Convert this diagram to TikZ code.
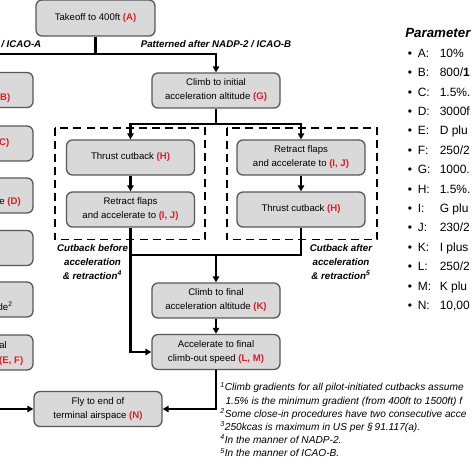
\documentclass[tikz,border=0pt]{standalone}
\usepackage{fontspec}
\setmainfont{Liberation Sans}
\usetikzlibrary{arrows.meta}
\definecolor{parred}{RGB}{225,28,36}
\definecolor{boxfill}{RGB}{217,217,217}
\definecolor{boxline}{RGB}{88,88,88}
\newcommand{\prm}[1]{\textcolor{parred}{\bfseries(#1)}}

\tikzset{
  stage/.style={draw=boxline, fill=boxfill, line width=1pt, rounded corners=4.5pt,
    minimum width=96pt, minimum height=26.25pt, inner sep=1pt, align=center,
    font=\fontsize{7.2}{10.5}\selectfont},
  frag/.style={inner sep=0pt, font=\fontsize{7.2}{10.5}\selectfont},
  trunk/.style={line width=1.6pt},
  flow/.style={trunk, -{Triangle[length=4.5pt,width=4.8pt]}},
  group/.style={line width=1.1pt, dash pattern=on 6pt off 3.8pt},
  path label/.style={inner sep=0pt, align=center, font=\fontsize{7.3}{10.5}\selectfont\bfseries\itshape},
  param/.style={anchor=base west, inner sep=0pt, font=\fontsize{9}{10}\selectfont}
}

\begin{document}
\begin{tikzpicture}[x=0.75pt,y=0.75pt,yscale=-1,xscale=1]
\path[use as bounding box] (0,0) rectangle (474,474);
\clip (0,0) rectangle (474,474);

%Dashed groups
\draw[group] (55,128) rectangle (205,239.5);
\draw[group] (227,128) rectangle (377,239.5);

%Stages
\node[stage, minimum width=89.25pt, minimum height=27pt] (A) at (95.5,18) {Takeoff to 400ft \prm{A}};
\node[stage] (G) at (216,90.5) {Climb to initial\\acceleration altitude \prm{G}};
\node[stage] (H1) at (130.5,157.5) {Thrust cutback \prm{H}};
\node[stage] (RF1) at (130.5,209.5) {Retract flaps\\and accelerate to \prm{I, J}};
\node[stage] (RF2) at (301,157.5) {Retract flaps\\and accelerate to \prm{I, J}};
\node[stage] (H2) at (301,209.5) {Thrust cutback \prm{H}};
\node[stage] (K) at (216,300.5) {Climb to final\\acceleration altitude \prm{K}};
\node[stage] (M) at (216,352) {Accelerate to final\\climb-out speed \prm{L, M}};
\node[stage] (N) at (98,409) {Fly to end of\\terminal airspace \prm{N}};

%Stages of the left branch (cut at the edge)
\node[stage] (pB) at (-31,90) {};
\node[stage] (pC) at (-31,143.5) {};
\node[stage] (pD) at (-31,195.5) {};
\node[stage] (pX) at (-31,248) {};
\node[stage] (pY) at (-31,299.5) {};
\node[stage] (pEF) at (-31,352.5) {};
\node[frag, anchor=east] (tB) at (10.5,98) {\textcolor{parred}{\bfseries B)}};
\node[frag, anchor=east] (tC) at (9.5,143.5) {\textcolor{parred}{\bfseries C)}};
\node[frag, anchor=east] (tD) at (21,202.5) {e \prm{D}};
\node[frag, anchor=east] (tY) at (13,306) {de\textsuperscript{2}};
\node[frag, anchor=east] (tE1) at (7,345) {al};
\node[frag, anchor=east] (tE2) at (23.5,361.5) {\prm{E, F}};

%Connectors
\coordinate (farA) at (-10,54);
\coordinate (fork2) at (216,124);
\coordinate (join) at (216,255);
\coordinate (farN) at (-10,409);
\draw[trunk] (A) -- (A |- farA);
\draw[flow] (farA) -| (G);
\draw[trunk] (G) -- (fork2);
\draw[flow] (fork2) -| (H1);
\draw[flow] (fork2) -| (RF2);
\draw[flow] (H1) -- (RF1);
\draw[flow] (RF2) -- (H2);
\draw[flow] (RF1) |- (M);
\draw[trunk] (H2) |- (RF1 |- join);
\draw[flow] (join) -- (K);
\draw[flow] (K) -- (M);
\draw[flow] (M) |- (N);
\draw[flow] (farN) -- (N);

% Text Node
\node[path label, anchor=west] (lblA) at (1,44) {/ ICAO-A};
\node[path label] (lblB) at (216,44) {Patterned after NADP-2 / ICAO-B};
\node[path label] (cbBefore) at (92.5,262) {Cutback before\\acceleration\\\& retraction\textsuperscript{4}};
\node[path label] (cbAfter) at (341,262) {Cutback after\\acceleration\\\& retraction\textsuperscript{5}};

% Text Node
\node[anchor=west, inner sep=0pt, font=\fontsize{10}{12}\selectfont\bfseries\itshape] (ptitle) at (405,33) {Parameter};
\node[param] (pA) at (407.5,57.3) {\makebox[7.5pt][l]{\textbullet}\makebox[16.5pt][l]{A:}10\%};
\node[param] (pB) at (407.5,76.7) {\makebox[7.5pt][l]{\textbullet}\makebox[16.5pt][l]{B:}800/\textbf{1}};
\node[param] (pC) at (407.5,96.1) {\makebox[7.5pt][l]{\textbullet}\makebox[16.5pt][l]{C:}1.5\%.};
\node[param] (pD) at (407.5,115.5) {\makebox[7.5pt][l]{\textbullet}\makebox[16.5pt][l]{D:}3000f};
\node[param] (pE) at (407.5,134.9) {\makebox[7.5pt][l]{\textbullet}\makebox[16.5pt][l]{E:}D plu};
\node[param] (pF) at (407.5,154.3) {\makebox[7.5pt][l]{\textbullet}\makebox[16.5pt][l]{F:}250/2};
\node[param] (pG) at (407.5,173.7) {\makebox[7.5pt][l]{\textbullet}\makebox[16.5pt][l]{G:}1000.};
\node[param] (pH) at (407.5,193.1) {\makebox[7.5pt][l]{\textbullet}\makebox[16.5pt][l]{H:}1.5\%.};
\node[param] (pI) at (407.5,212.5) {\makebox[7.5pt][l]{\textbullet}\makebox[16.5pt][l]{I:}G plu};
\node[param] (pJ) at (407.5,231.9) {\makebox[7.5pt][l]{\textbullet}\makebox[16.5pt][l]{J:}230/2};
\node[param] (pK) at (407.5,251.3) {\makebox[7.5pt][l]{\textbullet}\makebox[16.5pt][l]{K:}I plus};
\node[param] (pL) at (407.5,270.7) {\makebox[7.5pt][l]{\textbullet}\makebox[16.5pt][l]{L:}250/2};
\node[param] (pM) at (407.5,290.1) {\makebox[7.5pt][l]{\textbullet}\makebox[16.5pt][l]{M:}K plu};
\node[param] (pN) at (407.5,309.5) {\makebox[7.5pt][l]{\textbullet}\makebox[16.5pt][l]{N:}10,00};

% Text Node
\node[anchor=north west, inner sep=0pt, align=left, font=\fontsize{7.6}{9.9}\selectfont\itshape] (notes) at (220,382) {\textsuperscript{1}Climb gradients for all pilot-initiated cutbacks assume\\
\hspace*{4pt}1.5\% is the minimum gradient (from 400ft to 1500ft) f\\
\textsuperscript{2}Some close-in procedures have two consecutive acce\\
\textsuperscript{3}250kcas is maximum in US per \S\,91.117(a).\\
\textsuperscript{4}In the manner of NADP-2.\\
\textsuperscript{5}In the manner of ICAO-B.};

\end{tikzpicture}
\end{document}
